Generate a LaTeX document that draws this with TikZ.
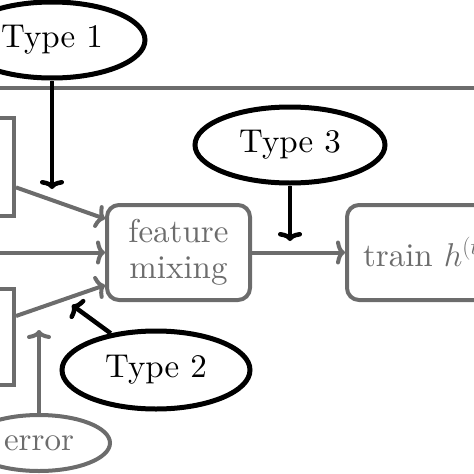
\RequirePackage{fix-cm}
\documentclass[tikz,border=0pt]{standalone}
\usepackage{fontspec}
\setmainfont{lmroman10-regular}[Extension=.otf]
\usetikzlibrary{arrows.meta,shapes.geometric,calc}
\definecolor{lgray}{RGB}{108,108,108}
\begin{document}
\begin{tikzpicture}[x=1pt,y=-1pt,
  every node/.style={font=\fontsize{33}{36}\selectfont},
  gline/.style={draw=lgray,line width=4pt},
  garrow/.style={gline,-{Computer Modern Rightarrow[length=9pt,width=24pt]}},
  barrow/.style={draw=black,line width=4.5pt,-{Computer Modern Rightarrow[length=9pt,width=24pt]}},
  typeell/.style={ellipse,draw=black,line width=5pt,inner sep=0pt,minimum width=186pt,minimum height=76pt},
  gbox/.style={draw=lgray,line width=4pt,rounded corners=12pt,text=lgray,inner sep=0pt}
]
\useasboundingbox (0,0) rectangle (474,474);
% frame line
\coordinate (fl) at (-20,88);
\coordinate (fr) at (500,88);
\draw[gline] (fl) -- (fr);
% left boxes
\node[draw=lgray,line width=4pt,minimum width=100pt,minimum height=98pt,inner sep=0pt] (lb1) at (-36,167) {};
\node[draw=lgray,line width=4pt,minimum width=100pt,minimum height=96pt,inner sep=0pt] (lb2) at (-36,337) {};
% main boxes
\node[gbox,minimum width=143pt,minimum height=95pt,align=center] (fm) at (178.5,252.5) {feature\\mixing};
\node[gbox,minimum height=95pt,text width=142pt,inner xsep=16pt,align=left] (tr) at (434,252.5) {train $h^{(t)}$};
% ellipses
\node[typeell] (t1) at (52,40) {Type 1};
\node[typeell,minimum width=190pt] (t3) at (290,145) {Type 3};
\node[typeell,minimum width=188pt,minimum height=78pt] (t2) at (156,370) {Type 2};
\node[ellipse,draw=lgray,line width=4pt,text=lgray,inner sep=0pt,minimum width=142pt,minimum height=56pt] (err) at (39,443) {error};
% connectors
\coordinate (min) at (-20,252.5);
\draw[garrow] ($(lb1.north east)!0.7!(lb1.south east)$) -- ($(fm.north west)!0.16!(fm.south west)$);
\draw[garrow] (min) -- (fm.west);
\draw[garrow] ($(lb2.north east)!0.29!(lb2.south east)$) -- ($(fm.north west)!0.83!(fm.south west)$);
\draw[garrow] (fm.east) -- (tr.west);
\coordinate (t1tip) at (52,189);
\coordinate (t3tip) at (290,241);
\coordinate (t2tip) at (72,305);
\coordinate (errtip) at (39,330);
\draw[barrow] (t1.south) -- (t1tip);
\draw[barrow] (t3.south) -- (t3tip);
\draw[barrow] (t2.141.5) -- (t2tip);
\draw[garrow] (err.north) -- (errtip);
\end{tikzpicture}
\end{document}
